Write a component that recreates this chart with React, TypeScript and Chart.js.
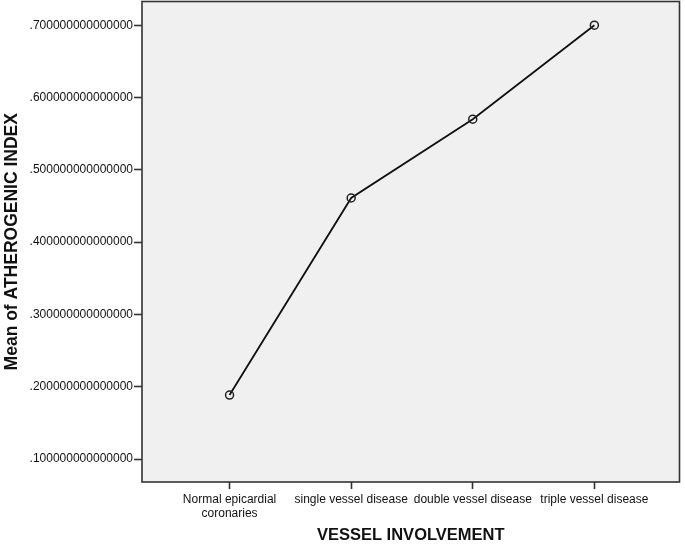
import React, { useEffect, useRef } from "react";
import { Chart, registerables } from "chart.js";

Chart.register(...registerables);

const categories: (string | string[])[] = [
  ["Normal epicardial", "coronaries"],
  "single vessel disease",
  "double vessel disease",
  "triple vessel disease",
];
const meanAtherogenicIndex = [0.1885, 0.461, 0.57, 0.7];
const yTickValues = [0.1, 0.2, 0.3, 0.4, 0.5, 0.6, 0.7];
const yTickLabels = [
  ".100000000000000",
  ".200000000000000",
  ".300000000000000",
  ".400000000000000",
  ".500000000000000",
  ".600000000000000",
  ".700000000000000",
];

const FONT = "'Liberation Sans', Arial, sans-serif";

const plotFrame = {
  id: "plotFrame",
  beforeDatasetsDraw(chart: any) {
    const { ctx, chartArea } = chart;
    ctx.save();
    ctx.fillStyle = "#f0f0f0";
    ctx.fillRect(chartArea.left, chartArea.top, chartArea.right - chartArea.left, chartArea.bottom - chartArea.top);
    ctx.restore();
  },
  afterDatasetsDraw(chart: any) {
    const { ctx, chartArea } = chart;
    ctx.save();
    ctx.strokeStyle = "#333333";
    ctx.lineWidth = 1.6;
    ctx.strokeRect(chartArea.left, chartArea.top, chartArea.right - chartArea.left, chartArea.bottom - chartArea.top);
    ctx.restore();
  },
};

export default function App() {
  const ref = useRef<HTMLCanvasElement>(null);
  useEffect(() => {
    if (!ref.current) return;
    const chart = new Chart(ref.current, {
      type: "line",
      data: {
        datasets: [
          {
            data: meanAtherogenicIndex.map((v, i) => ({ x: i, y: v })),
            borderColor: "#111111",
            borderWidth: 1.8,
            pointRadius: 4,
            pointBorderWidth: 1.5,
            pointBorderColor: "#222222",
            pointBackgroundColor: "rgba(0,0,0,0)",
            tension: 0,
            fill: false,
          },
        ],
      },
      plugins: [plotFrame],
      options: {
        responsive: false,
        animation: false,
        layout: { padding: { top: 0, right: 4, left: 0, bottom: 0 } },
        plugins: { legend: { display: false }, tooltip: { enabled: false } },
        scales: {
          x: {
            type: "linear",
            min: -0.72,
            max: 3.7,
            afterBuildTicks: (scale: any) => {
              scale.ticks = categories.map((_, i) => ({ value: i }));
            },
            afterFit: (scale: any) => {
              scale.height = 63;
              scale.paddingLeft = 0;
              scale.paddingRight = 0;
            },
            grid: {
              display: true,
              drawOnChartArea: false,
              drawTicks: true,
              tickLength: 7,
              tickWidth: 1.6,
              tickColor: "#333333",
            },
            border: { display: false },
            ticks: {
              autoSkip: false,
              maxRotation: 0,
              minRotation: 0,
              padding: 3,
              color: "#111111",
              font: { family: FONT, size: 12 },
              callback: (v: any) => categories[Number(v)] ?? "",
            },
            title: {
              display: true,
              text: "VESSEL INVOLVEMENT",
              color: "#111111",
              font: { family: FONT, size: 16.5, weight: "bold", lineHeight: 1.1 },
              padding: { top: 0, bottom: 0 },
            },
          },
          y: {
            type: "linear",
            min: 0.0682,
            max: 0.7328,
            afterBuildTicks: (scale: any) => {
              scale.ticks = yTickValues.map((v) => ({ value: v }));
            },
            afterFit: (scale: any) => {
              scale.width = 142;
              scale.paddingTop = 0;
              scale.paddingBottom = 0;
            },
            grid: {
              display: true,
              drawOnChartArea: false,
              drawTicks: true,
              tickLength: 8,
              tickWidth: 1.6,
              tickColor: "#333333",
            },
            border: { display: false },
            ticks: {
              autoSkip: false,
              padding: 1,
              color: "#111111",
              font: { family: FONT, size: 12 },
              callback: (v: any) => {
                const idx = yTickValues.findIndex((t) => Math.abs(t - Number(v)) < 1e-9);
                return idx >= 0 ? yTickLabels[idx] : "";
              },
            },
            title: {
              display: true,
              text: "Mean of ATHEROGENIC INDEX",
              color: "#111111",
              font: { family: FONT, size: 17.5, weight: "bold", lineHeight: 1.2 },
              padding: { top: 1.5, bottom: 0 },
            },
          },
        },
      },
    } as any);
    return () => chart.destroy();
  }, []);
  return (
    <div style={{ position: "absolute", top: 0, left: 0, width: 685, height: 545, overflow: "hidden", background: "#ffffff" }}>
      <canvas ref={ref} width={685} height={549} style={{ position: "absolute", top: -4, left: 0 }} />
    </div>
  );
}
